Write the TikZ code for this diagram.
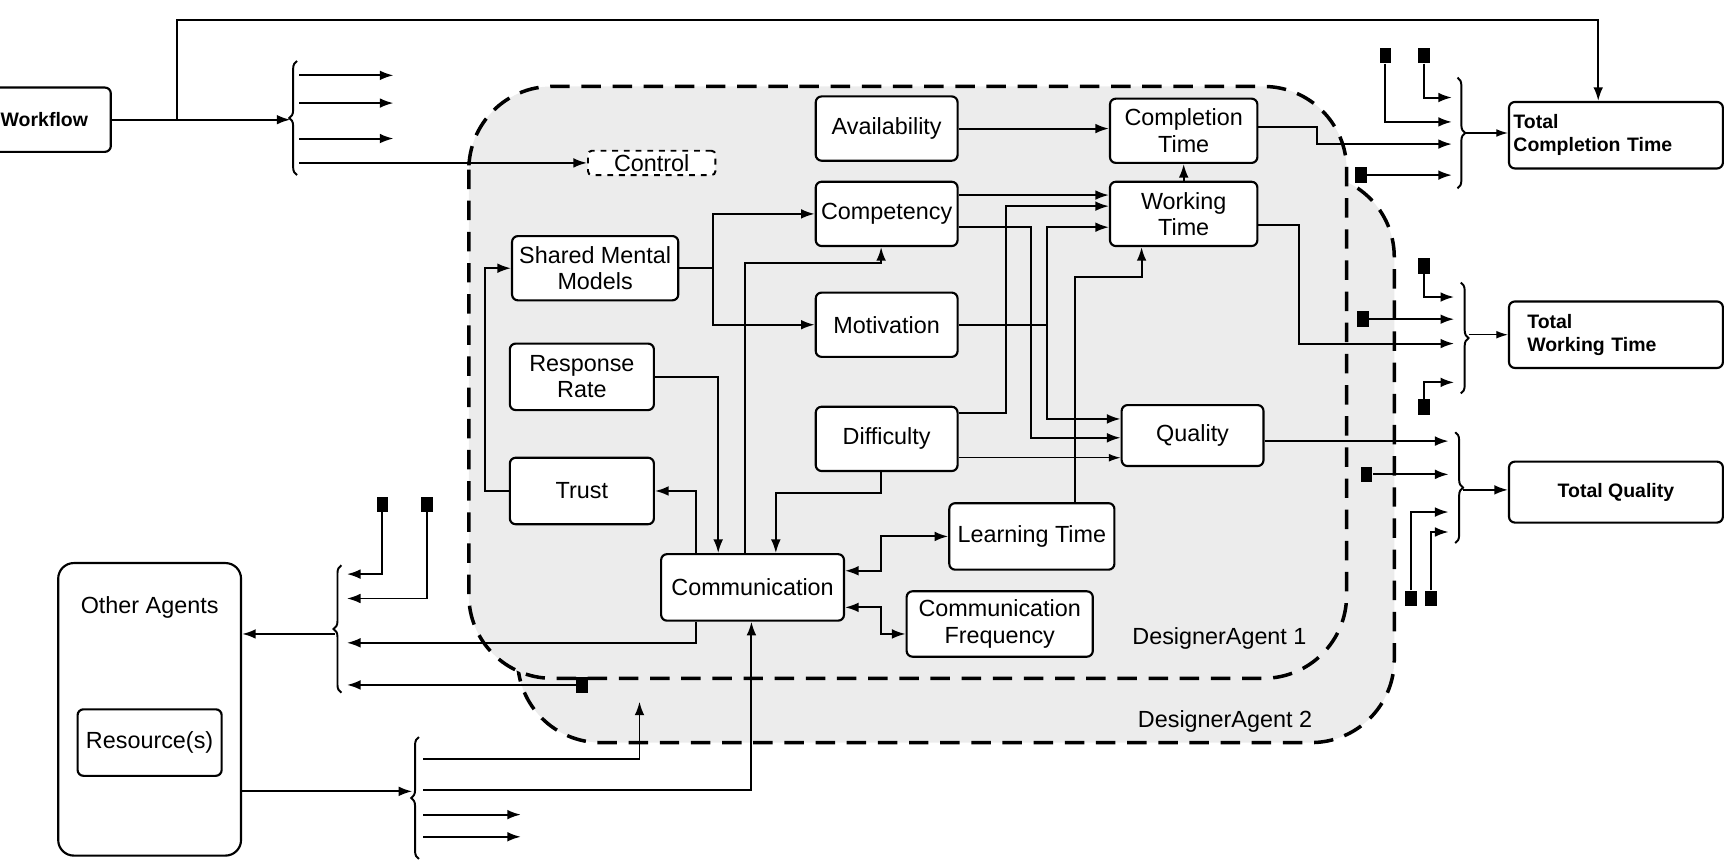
\documentclass[tikz,border=0pt]{standalone}
\usepackage{fontspec}
\setmainfont{Liberation Sans}
\usetikzlibrary{arrows.meta,decorations.pathreplacing}
\begin{document}
\begin{tikzpicture}[x=0.02cm,y=-0.02cm,
	block/.style={draw,fill=white,rounded corners=3pt,line width=1.1pt,align=center,inner sep=1pt,minimum width=2.56cm,minimum height=1.16cm},
	total/.style={block,font=\bfseries,minimum width=3.86cm,minimum height=1.2cm},
	agent/.style={draw,fill=gray!15,line width=1.8pt,dash pattern=on 10pt off 6pt,rounded corners=1.5cm},
	link/.style={line width=1pt,-{Latex[length=7pt,width=5pt]}},
	thin link/.style={line width=0.6pt,-{Latex[length=6pt,width=4pt]}},
	both/.style={line width=1pt,{Latex[length=7pt,width=5pt]}-{Latex[length=7pt,width=5pt]}},
	plain/.style={line width=1pt},
	brace/.style={line width=1pt,decorate,decoration={brace,amplitude=4pt}},
	stub/.style={fill=black,minimum width=6pt,minimum height=8pt,inner sep=0pt},
	font=\fontsize{12}{13.5}\selectfont
	]
	\useasboundingbox (0,0) rectangle (1560,780);
	% designer agents
	\draw[agent] (467,157) rectangle (1258,670);
	\draw[agent] (423,78) rectangle (1215,612);
	\node[anchor=south east] (agent1) at (1185,592) {DesignerAgent 1};
	\node[anchor=south east] (agent2) at (1190,667) {DesignerAgent 2};
	
	% blocks
	\node[block,font=\bfseries,minimum width=2.4cm] (workflow) at (40,108) {Workflow};
	\node[block] (avail) at (800,116) {Availability};
	\node[block,minimum width=2.66cm] (ctime) at (1068,118) {Completion\\Time};
	\node[block] (compet) at (800,193) {Competency};
	\node[block,minimum width=2.66cm] (wtime) at (1068,193) {Working\\Time};
	\node[block,minimum width=3cm] (smm) at (537,242) {Shared Mental\\Models};
	\node[block] (motiv) at (800,293) {Motivation};
	\node[block,minimum width=2.6cm,minimum height=1.2cm] (rrate) at (525,340) {Response\\Rate};
	\node[block] (diff) at (800,396) {Difficulty};
	\node[block,minimum height=1.1cm] (quality) at (1076,393) {Quality};
	\node[block,minimum width=2.6cm,minimum height=1.2cm] (trust) at (525,443) {Trust};
	\node[block,minimum width=2.98cm,minimum height=1.2cm] (ltime) at (931,484) {Learning Time};
	\node[block,minimum width=3.3cm,minimum height=1.2cm] (comm) at (679,530) {Communication};
	\node[block,minimum width=3.36cm,minimum height=1.18cm] (cfreq) at (902,563) {Communication\\Frequency};
	\node[draw,dashed,line width=1pt,fill=white,rounded corners=2pt,minimum width=2.3cm,minimum height=0.44cm,inner sep=1pt] (control) at (588,147) {Control};
	\node[draw,rounded corners=8pt,line width=1.1pt,minimum width=3.3cm,minimum height=5.28cm] (others) at (135,640) {};
	\node (otherlbl) at (135,548) {Other Agents};
	\node[block,minimum width=2.6cm,minimum height=1.2cm] (resource) at (135,670) {Resource(s)};
	\node[total,text width=3.7cm,align=left] (tct) at (1458,122) {Total\\Completion Time};
	\node[total,text width=3.2cm,align=left] (twt) at (1458,302) {Total\\Working Time};
	\node[total,minimum height=1.1cm] (tq) at (1458,444) {Total Quality};
	
	% workflow fan-out
	\draw[brace] (268,158) -- (268,55);
	\draw[plain] (workflow.east) -- (160,108) coordinate (wsplit);
	\draw[link] (wsplit) -- (262,108);
	\foreach \y in {68,93,125} \draw[link] (270,\y) -- (355,\y);
	\draw[link] (270,147) -- (control.west);
	\draw[link] (wsplit) |- (1442,18) -- (tct.north -| 1442,0);
	
	% inside the agent
	\draw[link] (avail) -- (ctime.west |- avail);
	\draw[link] (wtime) -- (ctime);
	\draw[link] (compet.east |- 0,176) -- (wtime.west |- 0,176);
	\draw[link] (compet.east |- 0,205) -- (930,205) |- (quality.west |- 0,395);
	\draw[link] (diff.east |- 0,373) -- (908,373) |- (wtime.west |- 0,186);
	\draw[link] (motiv) -- (945,293) |- (wtime.west |- 0,205);
	\draw[link] (945,293) |- (quality.west |- 0,378);
	\draw[thin link] (diff.east |- 0,413) -- (quality.west |- 0,413);
	\draw[link] (ltime.north -| 970,0) |- (1030,250) -- (wtime.south -| 1030,0);
	\draw[plain] (smm.east) -- (643,242);
	\draw[link] (643,242) |- (compet.west);
	\draw[link] (643,242) |- (motiv.west);
	\draw[link] (diff.south -| 795,0) |- (700,445) -- (comm.north -| 700,0);
	\draw[link] (rrate.east) -| (comm.north -| 648,0);
	\draw[link] (comm.north -| 672,0) |- (795,237) -- (compet.south -| 795,0);
	\draw[link] (comm.north -| 628,0) |- (trust.east);
	\draw[link] (trust.west) -- (438,443) |- (smm.west);
	\draw[both] (comm.east |- 0,515) -| (795,484) -- (ltime.west);
	\draw[both] (comm.east |- 0,548) -| (795,572) -- (cfreq.west |- 0,572);
	
	% outputs to totals
	\draw[brace] (1315,70) -- (1315,170);
	\node[stub] (s1) at (1250,50) {};
	\node[stub] (s2) at (1285,50) {};
	\node[stub] (s3) at (1228,158) {};
	\draw[link] (s2) |- (1310,88);
	\draw[link] (s1) |- (1310,110);
	\draw[link] (ctime.east |- 0,115) -- (1188,115) |- (1310,130);
	\draw[link] (s3) -- (1310,158);
	\draw[thin link] (1322,120) -- (tct.west |- 0,120);
	
	\draw[brace] (1318,255) -- (1318,355);
	\node[stub] (s4) at (1285,240) {};
	\node[stub] (s5) at (1230,288) {};
	\node[stub] (s6) at (1285,367) {};
	\draw[link] (s4) |- (1312,268);
	\draw[link] (s5) -- (1312,288);
	\draw[link] (wtime.east |- 0,203) -- (1172,203) |- (1312,310);
	\draw[link] (s6) |- (1312,345);
	\draw[thin link] (1325,302) -- (twt.west);
	
	\draw[brace] (1313,390) -- (1313,490);
	\node[stub] (s7) at (1233,428) {};
	\node[stub] (s8) at (1273,540) {};
	\node[stub] (s9) at (1291,540) {};
	\draw[link] (quality.east |- 0,398) -- (1307,398);
	\draw[link] (s7) -- (1307,428);
	\draw[link] (s8) |- (1307,462);
	\draw[link] (s9) |- (1307,480);
	\draw[link] (1320,442) -- (tq.west |- 0,442);
	
	% to other agents
	\draw[brace] (308,625) -- (308,510);
	\node[stub] (s10) at (345,455) {};
	\node[stub] (s11) at (385,455) {};
	\node[stub] (s12) at (525,618) {};
	\draw[link] (s10) |- (313,518);
	\draw[link] (s11) |- (313,540);
	\draw[link] (comm.south -| 628,0) |- (313,580);
	\draw[link] (s12) -- (313,618);
	\draw[link] (302,572) -- (others.east |- 0,572);
	
	% from resources
	\draw[brace] (378,775) -- (378,665);
	\draw[link] (others.east |- 0,714) -- (372,714);
	\draw[link] (382,685) -| (577,633);
	\draw[link] (382,713) -| (comm.south -| 678,0);
	\foreach \y in {735,755} \draw[link] (382,\y) -- (470,\y);
\end{tikzpicture}
\end{document}
